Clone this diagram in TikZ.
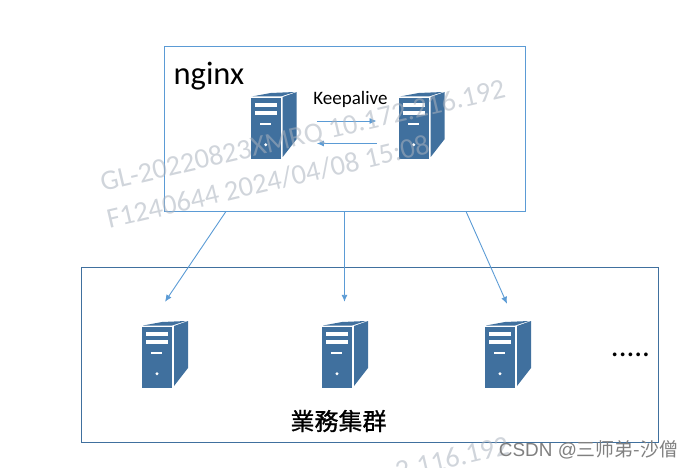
\documentclass[tikz,border=0pt]{standalone}
\usepackage{fontspec}
\setmainfont{Carlito}
\newfontfamily\cjktc[FakeBold=1]{Noto Sans CJK TC}
\newfontfamily\cjksc{Noto Sans CJK SC}
\newfontfamily\csdnfont{Liberation Sans}
\usetikzlibrary{arrows.meta}
\definecolor{serverblue}{RGB}{64,112,158}
\definecolor{linkblue}{RGB}{91,155,213}
\definecolor{markgray}{RGB}{170,178,190}

\begin{document}
\begin{tikzpicture}[
						x=1pt, y=-1pt,
						node distance={148pt},
						server/.style = {minimum width=46pt, minimum height=67pt, inner sep=0pt, path picture={
							\fill[serverblue] (-23,-27.5) rectangle (7,33.5);
							\fill[serverblue] (9,-28.5) -- (23,-33.5) -- (23,13.5) -- (9,31.5) -- cycle;
							\fill[serverblue] (-22,-29) -- (7,-29) -- (21,-33.5) -- (-3,-32.5) -- cycle;
							\fill[white] (-19,-22.5) rectangle (3,-18.5);
							\fill[white] (-19,-14.5) rectangle (3,-10.5);
							\fill[white] (-14,-2.5) rectangle (-3,-0.5);
							\fill[white] (-8,19.2) circle (1.6);
						}},
						nginxbox/.style = {draw=linkblue, line width=0.75pt, minimum width=361pt, minimum height=165pt, inner sep=0pt},
						groupbox/.style = {draw=serverblue, line width=0.75pt, minimum width=577pt, minimum height=175pt, inner sep=0pt},
						link/.style = {draw=linkblue, line width=0.9pt, -{Latex[length=7pt,width=6pt]}},
						watermark/.style = {text=markgray, opacity=0.55, rotate=13.2, font=\fontsize{28.5}{28.5}\selectfont, inner sep=0pt}
					]
\useasboundingbox (0,0) rectangle (691,468);

\node[nginxbox] (ng) at (344.5,128.5) {};
\node[groupbox] (grp) at (369.5,354.5) {};

\node[server] (n1) at (273.7,125.5) {};
\node[server] (n2) [right of=n1] {};
\node[server] (b1) at (165,354.5) {};
\node[server] (b2) [right of=b1, xshift=32pt] {};
\node[server] (b3) [right of=b2, xshift=15pt] {};

\node (nginxtext) at (209,76) {\fontsize{32.5}{32.5}\selectfont nginx};
\node (keeptext) at (350.5,99) {\fontsize{19}{19}\selectfont Keepalive};
\node (dots) at (630.5,355) {\fontsize{31}{31}\selectfont .....};
\node (grptext) at (338.5,421) {\cjktc\fontsize{24}{24}\selectfont 業務集群};

\draw[link] ([shift={(20pt,4.5pt)}]n1.east) -- ([shift={(-22pt,4.5pt)}]n2.west);
\draw[link] ([shift={(-22pt,-18pt)}]n2.west) -- ([shift={(20pt,-18pt)}]n1.east);
\draw[link] ([xshift=-118.5pt]ng.south) -- ([yshift=19pt]b1.north);
\draw[link] (ng.south) -- ([xshift=-0.5pt,yshift=19pt]b2.north);
\draw[link] ([xshift=121.5pt]ng.south) -- ([xshift=-1pt,yshift=17pt]b3.north);

\node[watermark] (mark1) at (303,137) {GL-20220823XMRQ 10.172.216.192};
\node[watermark] (mark2) at (268,182) {F1240644 2024/04/08 15:08};
\node[watermark] (mark3) at (452,458) {2.116.192};
\node (csdn) at (588.5,450) {\fontsize{18.9}{18.9}\selectfont\color{black!50}\csdnfont CSDN @\cjksc 三师弟-沙僧};
\end{tikzpicture}
\end{document}
